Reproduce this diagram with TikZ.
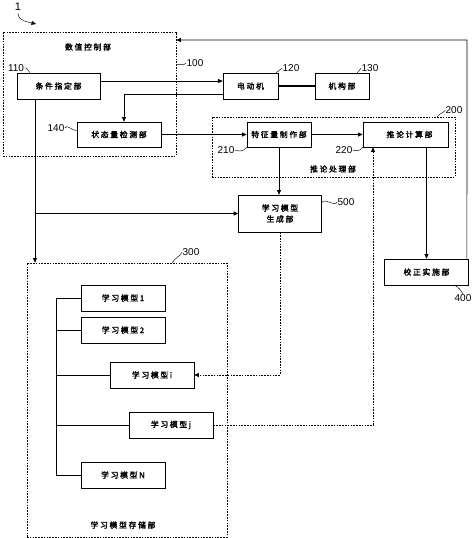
\documentclass[tikz,border=0pt]{standalone}
\usepackage{fontspec}
\setmainfont{Liberation Sans}
\newfontfamily\cjk[LetterSpace=22,FakeBold=2]{Noto Sans CJK SC}
\usetikzlibrary{arrows.meta,calc}

\begin{document}
\begin{tikzpicture}[x=1pt,y=-1pt,line width=.7pt,
  box/.style={draw,inner sep=0pt,minimum width=#1,minimum height=26pt,align=center,font=\cjk\fontsize{7.8}{11}\selectfont},
  grp/.style={draw,dash pattern=on 1.6pt off 1.2pt,inner sep=0pt,minimum width=#1},
  ttl/.style={inner sep=0pt,font=\cjk\fontsize{7.8}{9}\selectfont},
  num/.style={inner sep=0pt,font=\fontsize{10}{12}\selectfont},
  arr/.style={-{Triangle[length=4.5pt,width=4pt]}},
  dots/.style={dash pattern=on 1.6pt off 1.2pt},
  lead/.style={line width=.45pt}]
  \useasboundingbox (0,0) rectangle (474,538);
  % dashed groups
  \path (89.5,94) node[grp=173,minimum height=124pt] (ctrl) {}
    (333.5,147) node[grp=243,minimum height=60pt] (proc) {}
    (127,400) node[grp=200,minimum height=274pt] (sto) {};
  \path (88,47) node[ttl] (t100) {数值控制部}
    (333,169) node[ttl] (t200) {推论处理部}
    (123,525) node[ttl] (t300) {学习模型存储部};
  % blocks
  \path (58.5,86) node[box=83] (cond) {条件指定部}
    (250.5,86) node[box=55] (motor) {电动机}
    (342,86) node[box=54] (mech) {机构部}
    (119,134.5) node[box=84,minimum height=25pt] (state) {状态量检测部}
    (279,134.5) node[box=64,minimum height=25pt] (feat) {特征量制作部}
    (405.5,134.5) node[box=85,minimum height=25pt] (infer) {\hspace{8pt}推论计算部}
    (280,213.5) node[box=83,minimum height=37pt] (gen) {学习模型\\生成部}
    (426.5,272) node[box=84] (fix) {校正实施部};
  \path (123,298) node[box=84] (m1) {学习模型1}
    (123,330) node[box=84] (m2) {学习模型2}
    (152,375) node[box=84] (mi) {学习模型i}
    (171,425) node[box=84] (mj) {学习模型j}
    (123,475) node[box=84] (mN) {学习模型N};
  % connectors
  \coordinate (bus) at (35,99);
  \draw[arr] (bus) -- (bus |- sto.north);
  \draw[arr] (bus |- gen.west) -- (gen.west);
  \draw[arr] ([yshift=5pt]cond.east) -- ([yshift=5pt]motor.west);
  \draw[arr] ([yshift=-8pt]motor.west) -| ([xshift=5pt]state.north);
  \draw[line width=1.5pt] (motor) -- (mech);
  \draw[arr] (state) -- (feat);
  \draw[arr] (feat) -- (infer);
  \draw[arr] (feat.south) -- (feat.south |- gen.north);
  \draw[arr] (fix.north |- infer.south) -- (fix.north);
  \coordinate (ret) at (467,40);
  \draw[arr] ([xshift=-2pt]fix.north east) -- (ret) -- (ret -| ctrl.east);
  \draw[arr,dots] (gen.south) |- (mi.east);
  \draw[arr,dots] (mj.east) -| ([xshift=-32.5pt]infer.south);
  % model tree
  \coordinate (tree) at (56,0);
  \draw (tree |- m1.west) -- (tree |- mN.west);
  \foreach \m in {m1,m2,mi,mj,mN} \draw (tree |- \m.west) -- (\m.west);
  % reference numbers
  \path (18,7) node[num,font=\fontsize{11}{12}\selectfont] (l1) {1}
    (195,63) node[num] (l100) {100}
    (16,68) node[num] (l110) {110}
    (291,68) node[num] (l120) {120}
    (370,68) node[num] (l130) {130}
    (56,128) node[num] (l140) {140}
    (454,110) node[num] (l200) {200}
    (226,150) node[num] (l210) {210}
    (344,150) node[num] (l220) {220}
    (191,252) node[num] (l300) {300}
    (463,298) node[num] (l400) {400}
    (346,202) node[num] (l500) {500};
  \coordinate (p1) at (36,24);
  \draw[arr,lead] ([yshift=-2pt]l1.south) to[out=-90,in=165] (p1);
  \draw[lead] ([yshift=-34pt]ctrl.north east) to[out=60,in=240] (l100.west);
  \draw[lead] (l110.east) to[out=20,in=120] ([xshift=13pt]cond.north west);
  \draw[lead] (l120.west) to[out=240,in=60] ([xshift=-2pt]motor.north east);
  \draw[lead] (l130.west) to[out=240,in=60] ([xshift=-12pt]mech.north east);
  \draw[lead] (l140.east) to[out=60,in=180] ([yshift=-9pt]state.north west);
  \draw[lead] (l200.west) to[out=240,in=60] ([xshift=-18pt]proc.north east);
  \draw[lead] (l210.east) to[out=-20,in=240] (feat.south west);
  \draw[lead] (l220.east) to[out=-20,in=240] (infer.south west);
  \draw[lead] ([yshift=-8pt]gen.north east) to[out=60,in=240] (l500.west);
  \draw[lead] ([xshift=-55pt]sto.north east) to[out=60,in=240] (l300.west);
  \draw[lead] ([xshift=-14pt]fix.south east) to[out=-30,in=120] (l400.north);
\end{tikzpicture}
\end{document}
